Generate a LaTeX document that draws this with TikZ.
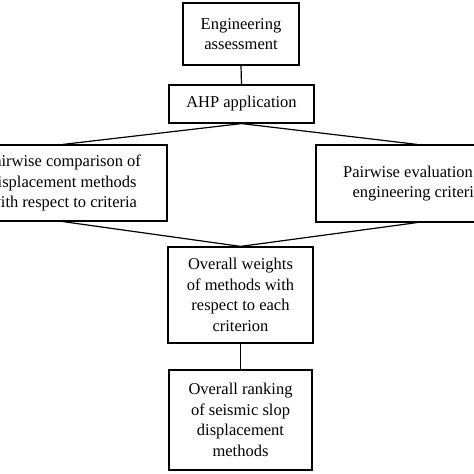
\documentclass[tikz,border=0pt]{standalone}
\usepackage{fontspec}
\setmainfont{Liberation Serif}
\usepackage{tikz}

\tikzset{
    flowBox/.style={draw, line width=1.2pt, align=center, inner sep=2pt,
        font=\fontsize{16.5}{20.5}\selectfont},
    flowLine/.style={line width=1.2pt}
}

\begin{document}
\begin{tikzpicture}[x=1pt,y=-1pt]
    \useasboundingbox (0,0) rectangle (474,474);

    % TOP
    \node[flowBox, minimum width=116pt, minimum height=62pt] (eng) at (241,34) {Engineering\\assessment};
    \node[flowBox, minimum width=145pt, minimum height=38pt] (ahp) at (241.5,104) {AHP application};

    % PAIRWISE
    \node[flowBox, minimum width=208pt, minimum height=76pt] (pwc) at (63,183) {Pairwise comparison of\\displacement methods\\with respect to criteria};
    \node[flowBox, minimum width=202pt, minimum height=77pt] (pwe) at (417,183.5) {Pairwise evaluation of\\engineering criteria};

    % RESULT
    \node[flowBox, minimum width=145pt, minimum height=96pt] (wts) at (240.5,295) {Overall weights\\of methods with\\respect to each\\criterion};
    \node[flowBox, minimum width=143pt, minimum height=100pt] (rank) at (240.5,420) {Overall ranking\\of seismic slop\\displacement\\methods};

    % CONNECTORS
    \draw[flowLine] (eng.south) -- (ahp.north);
    \draw[flowLine] (ahp.south) -- (pwc.north);
    \draw[flowLine] (ahp.south) -- (pwe.north);
    \draw[flowLine] (pwc.south) -- (wts.north);
    \draw[flowLine] (pwe.south) -- (wts.north);
    \draw[flowLine] (wts.south) -- (rank.north);
\end{tikzpicture}
\end{document}
